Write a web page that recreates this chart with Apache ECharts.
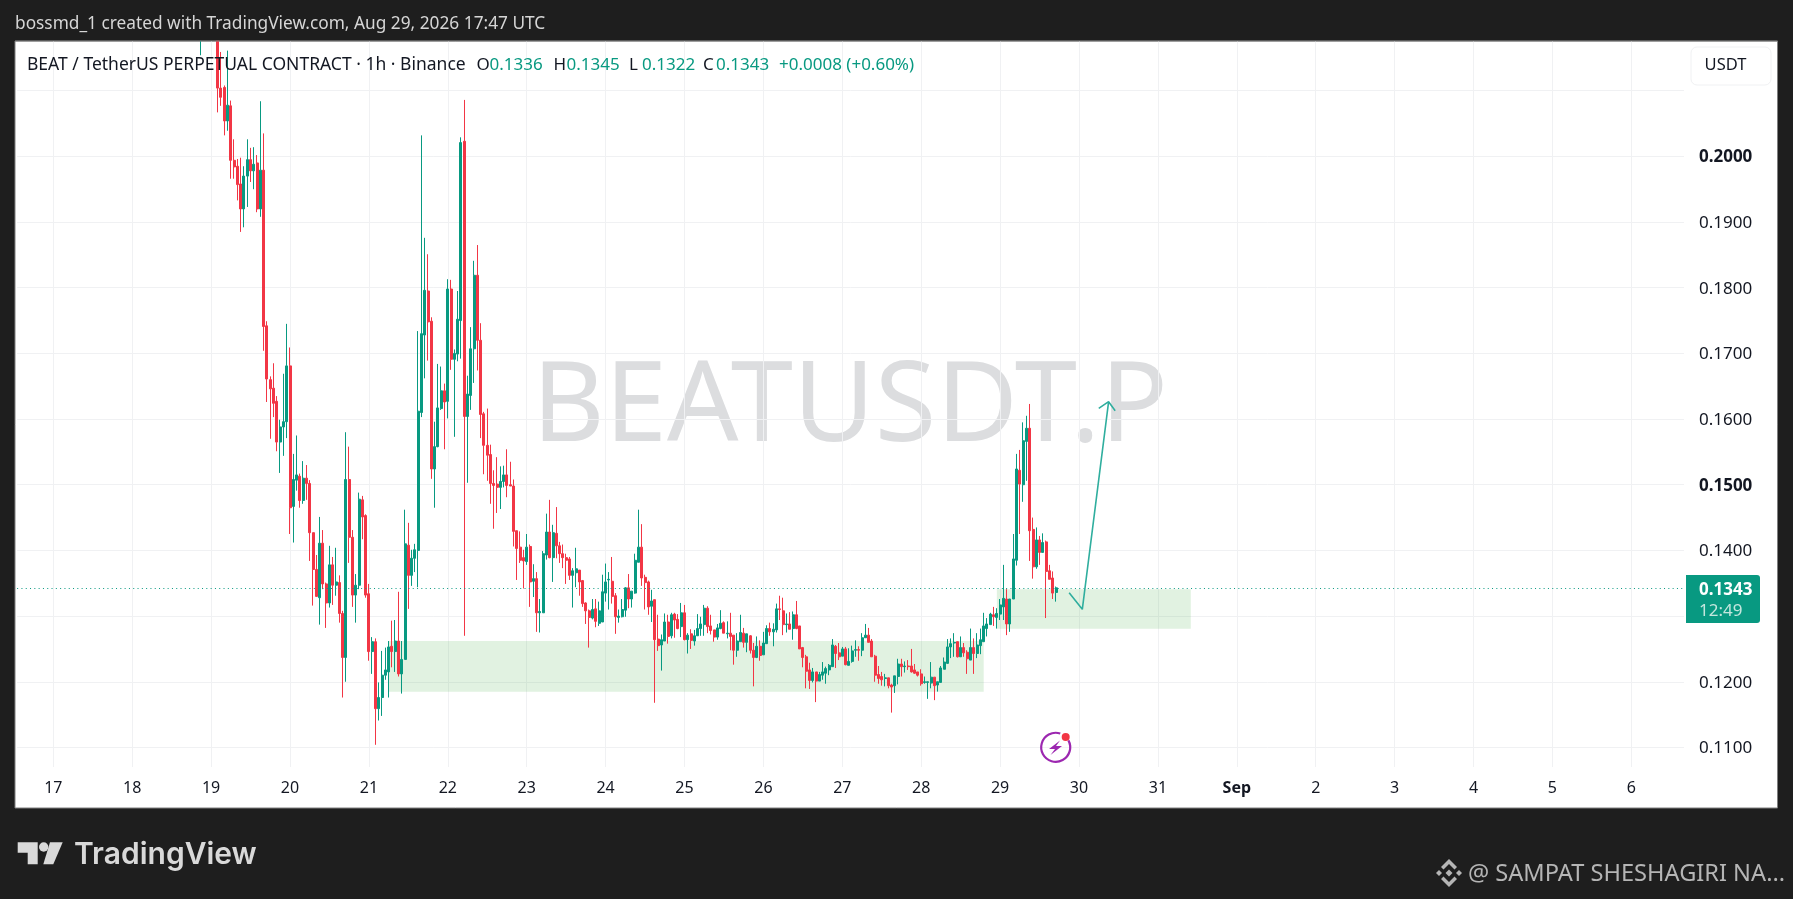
<!DOCTYPE html>
<html><head><meta charset="utf-8">
<style>html,body{margin:0;padding:0;background:#1e1e1e}#c{width:1793px;height:899px}</style>
<script src="https://cdn.jsdelivr.net/npm/echarts@6/dist/echarts.min.js"></script>
</head><body><div id="c"></div>
<script>
// Tick labels: one per day, first is Aug 17 00:00
const dayTicks = ["17","18","19","20","21","22","23","24","25","26","27","28","29","30","31","Sep","2","3","4","5","6"];
const boldDayTicks = ["Sep"];
const priceTicks = [0.11,0.12,0.13,0.14,0.15,0.16,0.17,0.18,0.19,0.2,0.21];
const hiddenPriceTicks = ["0.2100","0.1300"];
const boldPriceTicks = ["0.1500","0.2000"];
// Hourly candles, rows are [open, close, low, high]
const firstCandleHour = 45; // hours since Aug 17 00:00
const aug18 = [[.2195,.2210,.2154,.2260],[.2195,.2230,.2185,.2250],[.2230,.2260,.2200,.2290]];
const aug19 = [[.2260,.2240,.2200,.2300],[.2240,.2210,.2190,.2260],[.2210,.2104,.2067,.2240],[.2104,.2090,.2077,.2159],[.2105,.2054,.2032,.2108],[.2054,.2078,.2039,.2161],[.2077,.1994,.1966,.2085],[.1994,.1984,.1966,.2026],[.1985,.1957,.1933,.1996],[.1958,.1920,.1885,.1998],[.1920,.1970,.1892,.1985],[.1970,.1995,.1923,.2026],[.1995,.1978,.1961,.2013],[.1978,.1988,.1950,.2014],[.1990,.1920,.1915,.2002],[.1920,.1979,.1908,.2084],[.1979,.1741,.1704,.2035],[.1742,.1661,.1626,.1749],[.1660,.1646,.1570,.1665],[.1647,.1624,.1603,.1685],[.1627,.1565,.1551,.1635],[.1565,.1588,.1518,.1599],[.1588,.1596,.1544,.1669],[.1596,.1681,.1571,.1745]];
const aug20 = [[.1681,.1465,.1425,.1709],[.1467,.1508,.1412,.1547],[.1507,.1515,.1491,.1575],[.1513,.1476,.1465,.1517],[.1476,.1510,.1471,.1536],[.1510,.1502,.1477,.1530],[.1502,.1427,.1384,.1507],[.1427,.1371,.1316,.1427],[.1371,.1330,.1329,.1393],[.1328,.1411,.1287,.1451],[.1411,.1349,.1341,.1431],[.1349,.1320,.1282,.1351],[.1320,.1378,.1313,.1407],[.1378,.1347,.1317,.1390],[.1347,.1352,.1331,.1404],[.1351,.1304,.1290,.1362],[.1304,.1237,.1176,.1308],[.1237,.1508,.1200,.1580],[.1508,.1420,.1381,.1558],[.1420,.1332,.1314,.1431],[.1332,.1347,.1290,.1364],[.1347,.1478,.1341,.1488],[.1477,.1451,.1417,.1483],[.1453,.1332,.1328,.1455]];
const aug21 = [[.1334,.1246,.1232,.1349],[.1246,.1261,.1212,.1268],[.1261,.1159,.1104,.1266],[.1159,.1176,.1141,.1199],[.1176,.1210,.1148,.1247],[.1210,.1218,.1203,.1252],[.1215,.1253,.1176,.1262],[.1254,.1246,.1222,.1293],[.1246,.1262,.1215,.1294],[.1262,.1212,.1208,.1337],[.1212,.1234,.1182,.1262],[.1234,.1410,.1234,.1462],[.1408,.1362,.1311,.1442],[.1362,.1388,.1346,.1401],[.1388,.1401,.1367,.1410],[.1400,.1612,.1344,.1734],[.1610,.1730,.1603,.2032],[.1728,.1796,.1662,.1876],[.1795,.1748,.1689,.1851],[.1749,.1524,.1509,.1755],[.1524,.1558,.1465,.1596],[.1558,.1617,.1557,.1684],[.1616,.1643,.1614,.1680],[.1643,.1626,.1554,.1654]];
const aug22 = [[.1627,.1798,.1601,.1813],[.1798,.1691,.1675,.1812],[.1691,.1700,.1573,.1706],[.1699,.1752,.1688,.1795],[.1750,.2021,.1692,.2029],[.2023,.1604,.1270,.2086],[.1604,.1638,.1503,.1666],[.1636,.1707,.1614,.1740],[.1707,.1819,.1655,.1841],[.1819,.1720,.1674,.1865],[.1720,.1607,.1571,.1746],[.1608,.1560,.1516,.1611],[.1560,.1545,.1506,.1616],[.1546,.1502,.1471,.1561],[.1502,.1499,.1433,.1522],[.1501,.1496,.1457,.1542],[.1496,.1505,.1463,.1528],[.1505,.1515,.1496,.1529],[.1515,.1499,.1481,.1554],[.1500,.1498,.1498,.1535],[.1498,.1429,.1406,.1508],[.1430,.1403,.1355,.1430],[.1405,.1385,.1381,.1429],[.1389,.1384,.1342,.1401]];
const aug23 = [[.1383,.1405,.1378,.1425],[.1406,.1352,.1314,.1409],[.1353,.1357,.1329,.1379],[.1357,.1305,.1276,.1367],[.1305,.1307,.1275,.1326],[.1305,.1395,.1305,.1399],[.1393,.1428,.1386,.1456],[.1428,.1389,.1388,.1477],[.1389,.1427,.1352,.1439],[.1426,.1407,.1388,.1466],[.1407,.1395,.1381,.1413],[.1395,.1389,.1373,.1409],[.1389,.1385,.1349,.1395],[.1387,.1362,.1355,.1390],[.1362,.1369,.1313,.1373],[.1366,.1372,.1344,.1404],[.1370,.1352,.1331,.1370],[.1354,.1319,.1314,.1355],[.1320,.1308,.1288,.1321],[.1308,.1298,.1252,.1310],[.1297,.1310,.1295,.1326],[.1311,.1292,.1283,.1326],[.1289,.1308,.1285,.1322],[.1291,.1337,.1291,.1363]];
const aug24 = [[.1335,.1352,.1322,.1380],[.1355,.1356,.1310,.1367],[.1353,.1330,.1319,.1390],[.1331,.1299,.1273,.1335],[.1298,.1300,.1290,.1310],[.1299,.1310,.1298,.1326],[.1309,.1343,.1299,.1344],[.1343,.1326,.1312,.1364],[.1326,.1338,.1313,.1338],[.1335,.1385,.1334,.1395],[.1382,.1405,.1382,.1462],[.1405,.1358,.1346,.1440],[.1359,.1351,.1310,.1363],[.1352,.1314,.1302,.1354],[.1315,.1323,.1291,.1340],[.1325,.1264,.1168,.1325],[.1265,.1255,.1247,.1302],[.1256,.1264,.1217,.1272],[.1262,.1291,.1262,.1304],[.1291,.1269,.1258,.1302],[.1270,.1302,.1266,.1305],[.1303,.1294,.1267,.1305],[.1295,.1281,.1280,.1303],[.1284,.1305,.1268,.1320]];
const aug25 = [[.1305,.1264,.1263,.1317],[.1264,.1271,.1243,.1274],[.1273,.1263,.1250,.1280],[.1262,.1270,.1255,.1279],[.1270,.1281,.1270,.1303],[.1281,.1288,.1270,.1299],[.1287,.1312,.1270,.1317],[.1312,.1284,.1274,.1315],[.1285,.1278,.1272,.1302],[.1279,.1268,.1261,.1279],[.1268,.1282,.1264,.1288],[.1281,.1289,.1280,.1309],[.1290,.1274,.1274,.1292],[.1273,.1274,.1266,.1292],[.1274,.1269,.1248,.1305],[.1271,.1248,.1226,.1271],[.1248,.1262,.1238,.1274],[.1261,.1275,.1261,.1302],[.1274,.1260,.1252,.1282],[.1260,.1273,.1245,.1273],[.1270,.1248,.1243,.1271],[.1248,.1237,.1193,.1259],[.1237,.1254,.1236,.1269],[.1254,.1240,.1232,.1263]];
const aug26 = [[.1241,.1259,.1241,.1276],[.1258,.1281,.1258,.1286],[.1281,.1276,.1270,.1290],[.1276,.1280,.1254,.1289],[.1279,.1311,.1275,.1319],[.1311,.1310,.1294,.1331],[.1308,.1287,.1271,.1328],[.1287,.1288,.1275,.1304],[.1288,.1280,.1280,.1306],[.1281,.1302,.1264,.1307],[.1302,.1281,.1280,.1323],[.1285,.1250,.1250,.1285],[.1252,.1237,.1222,.1253],[.1238,.1216,.1190,.1241],[.1218,.1202,.1189,.1229],[.1202,.1215,.1199,.1221],[.1215,.1201,.1169,.1215],[.1201,.1211,.1201,.1215],[.1210,.1215,.1203,.1230],[.1213,.1220,.1197,.1223],[.1218,.1225,.1210,.1227],[.1223,.1256,.1223,.1265],[.1254,.1243,.1221,.1256],[.1244,.1238,.1233,.1259]];
const aug27 = [[.1239,.1250,.1239,.1253],[.1250,.1226,.1225,.1253],[.1225,.1231,.1225,.1251],[.1231,.1247,.1229,.1255],[.1248,.1249,.1238,.1263],[.1249,.1248,.1232,.1254],[.1248,.1267,.1239,.1274],[.1267,.1271,.1267,.1288],[.1271,.1260,.1260,.1282],[.1262,.1238,.1238,.1265],[.1239,.1210,.1200,.1241],[.1211,.1205,.1197,.1224],[.1208,.1203,.1194,.1215],[.1205,.1206,.1193,.1212],[.1206,.1194,.1190,.1206],[.1195,.1192,.1153,.1197],[.1194,.1209,.1183,.1209],[.1208,.1227,.1196,.1235],[.1227,.1223,.1208,.1235],[.1223,.1224,.1214,.1231],[.1224,.1223,.1218,.1233],[.1224,.1215,.1214,.1250],[.1218,.1213,.1212,.1227],[.1215,.1210,.1208,.1215]];
const aug28 = [[.1212,.1197,.1194,.1219],[.1199,.1200,.1197,.1208],[.1199,.1200,.1174,.1200],[.1198,.1207,.1190,.1230],[.1207,.1194,.1172,.1207],[.1195,.1200,.1185,.1200],[.1199,.1221,.1199,.1224],[.1219,.1230,.1219,.1237],[.1228,.1253,.1227,.1265],[.1253,.1258,.1236,.1266],[.1259,.1260,.1238,.1274],[.1261,.1238,.1237,.1261],[.1238,.1252,.1238,.1269],[.1252,.1244,.1238,.1259],[.1245,.1235,.1212,.1248],[.1233,.1252,.1233,.1281],[.1252,.1243,.1212,.1266],[.1243,.1256,.1236,.1274],[.1255,.1264,.1242,.1281],[.1261,.1285,.1261,.1305],[.1281,.1288,.1269,.1297],[.1287,.1303,.1287,.1305],[.1302,.1299,.1285,.1314],[.1298,.1304,.1281,.1312]];
const aug29 = [[.1303,.1317,.1294,.1326],[.1314,.1327,.1294,.1378],[.1326,.1288,.1271,.1341],[.1288,.1326,.1276,.1326],[.1326,.1387,.1326,.1425],[.1385,.1524,.1377,.1547],[.1522,.1501,.1425,.1553],[.1500,.1567,.1474,.1595],[.1566,.1586,.1506,.1605],[.1586,.1430,.1384,.1623],[.1432,.1375,.1357,.1450],[.1375,.1416,.1372,.1435],[.1416,.1397,.1378,.1422],[.1397,.1412,.1397,.1426],[.1413,.1368,.1297,.1415],[.1369,.1356,.1356,.1378],[.1358,.1335,.1326,.1368],[.1336,.1343,.1322,.1345]];
const lastPrice = 0.1343;
// Drawn zones: [from hour, to hour, bottom price, top price]
const zoneBase = [102, 283, 0.11849, 0.12621];
const zoneRetest = [287, 346, 0.12808, 0.13408];
// Drawn projection: hour, price
const arrowPath = [[309,0.13356],[313,0.13103],[321,0.16265],[318,0.16164],[321,0.16265],[323,0.16128]];
// Header texts
const headerText = "bossmd_1 created with TradingView.com, Aug 29, 2026 17:47 UTC";
const symbolText = "BEAT / TetherUS PERPETUAL CONTRACT · 1h · Binance";
const ohlcLabels = ["O","H","L","C"];
const ohlcValues = ["0.1336","0.1345","0.1322","0.1343"];
const changeText = "+0.0008 (+0.60%)";

const UP = "#089981", DOWN = "#F23645", INK = "#131722", FONT = '"Noto Sans", sans-serif';
const firstAxisHour = -11, lastAxisHour = 496;
const categories = [];
for (let h = firstAxisHour; h <= lastAxisHour; h++) {
  categories.push(h % 24 === 0 ? dayTicks[h / 24] : "h" + h);
}
const candles = [].concat(aug18, aug19, aug20, aug21, aug22, aug23, aug24, aug25, aug26, aug27, aug28, aug29);
const candleData = categories.map((_, i) => {
  const idx = i + firstAxisHour - firstCandleHour;
  return idx >= 0 && idx < candles.length ? candles[idx] : "-";
});
const toIdx = h => h - firstAxisHour;
const zoneArea = z => [{ xAxis: toIdx(z[0]), yAxis: z[3] }, { xAxis: toIdx(z[1]), yAxis: z[2] }];

const txt = (x, y, s, size, fill, extra) => Object.assign({
  type: "text", x, y, z: 50, silent: true,
  style: Object.assign({ text: s, fill, font: `${size}px ${FONT}`, textVerticalAlign: "middle" }, extra || {})
}, {});
const poly = (pts, fill) => ({ type: "polygon", z: 50, silent: true, shape: { points: pts }, style: { fill } });

const legendX = [476.5, 553.5, 629, 703];
const legendItems = [];
ohlcLabels.forEach((k, i) => {
  legendItems.push(txt(legendX[i], 65, k, 17, INK));
  legendItems.push(txt(legendX[i] + 13, 65, ohlcValues[i], 17, UP));
});

const option = {
  animation: false,
  backgroundColor: "#1e1e1e",
  grid: { left: 17.14, width: 1666.8, top: 41, height: 726 },
  xAxis: {
    type: "category", data: categories, boundaryGap: false,
    axisLine: { show: false }, axisTick: { show: false },
    splitLine: { show: true, interval: (i, v) => !v.startsWith("h"), lineStyle: { color: "#f0f1f3", width: 1 } },
    axisLabel: {
      interval: (i, v) => !v.startsWith("h"), margin: 13, fontFamily: FONT, fontSize: 16, color: INK, hideOverlap: false,
      formatter: v => boldDayTicks.includes(v) ? `{b|${v}}` : v,
      rich: { b: { fontFamily: FONT, fontSize: 16, fontWeight: "bold", color: INK } }
    }
  },
  yAxis: {
    type: "value", position: "right", min: 0.10702, max: 0.21757,
    axisLine: { show: false }, axisTick: { show: false, customValues: priceTicks },
    splitLine: { show: true, lineStyle: { color: "#f0f1f3", width: 1 } },
    axisLabel: {
      customValues: priceTicks, margin: 15, fontFamily: FONT, fontSize: 17, color: INK, padding: [2, 0, 0, 0],
      formatter: v => {
        const s = v.toFixed(4);
        if (hiddenPriceTicks.includes(s)) return "";
        return boldPriceTicks.includes(s) ? `{b|${s}}` : s;
      },
      rich: { b: { fontFamily: FONT, fontSize: 17, fontWeight: "bold", color: INK } }
    }
  },
  series: [
    {
      type: "candlestick", data: candleData, barWidth: 2.5, large: false, clip: true, silent: true,
      itemStyle: { color: UP, color0: DOWN, borderColor: UP, borderColor0: DOWN, borderWidth: 1 },
      markArea: {
        silent: true, itemStyle: { color: "rgba(76,175,80,0.17)", borderWidth: 0 },
        data: [zoneArea(zoneBase), zoneArea(zoneRetest)]
      },
      markLine: {
        silent: true, symbol: "none", label: { show: false }, precision: 4,
        lineStyle: { color: UP, type: [1, 3.3], width: 1 },
        data: [{ yAxis: lastPrice }]
      }
    },
    {
      type: "line", data: arrowPath.map(p => [toIdx(p[0]), p[1]]), symbol: "none", silent: true, z: 5,
      lineStyle: { color: "#2fae9e", width: 1.6 }
    }
  ],
  graphic: { elements: [
    { type: "rect", z: -10, silent: true, shape: { x: 15, y: 41, width: 1762.5, height: 767 }, style: { fill: "#ffffff", stroke: "#7f7f7f", lineWidth: 1 } },
    { type: "text", z: -5, silent: true, x: 850, y: 409.5, style: { text: "BEATUSDT.P", fill: "#dcdddf", font: `112px ${FONT}`, textAlign: "center", textVerticalAlign: "middle" } },
    // header band covers the wicks that leave the top of the pane
    { type: "rect", z: 10, silent: true, shape: { x: 0, y: 0, width: 1793, height: 40.5 }, style: { fill: "#1e1e1e" } },
    { type: "rect", z: 11, silent: true, shape: { x: 15, y: 40.5, width: 1762.5, height: 1 }, style: { fill: "#7f7f7f" } },
    txt(15, 24, headerText, 17.3, "#d6d6d6"),
    txt(27, 65, symbolText, 17.5, INK),
    ...legendItems,
    txt(779, 65, changeText, 17, UP),
    { type: "rect", z: 50, silent: true, shape: { x: 1691, y: 47, width: 80, height: 38, r: 6 }, style: { fill: "#fff", stroke: "#f0f1f3", lineWidth: 1 } },
    txt(1725.5, 65, "USDT", 16.5, INK, { textAlign: "center" }),
    { type: "rect", z: 50, silent: true, shape: { x: 1686, y: 575, width: 74, height: 48, r: [0, 3, 3, 0] }, style: { fill: UP } },
    { type: "text", z: 51, silent: true, x: 1699, y: 590, style: { text: "0.1343", fill: "#fff", font: `bold 17px ${FONT}`, textVerticalAlign: "middle" } },
    txt(1699, 611, "12:49", 17, "#c3e6dd"),
    // lightning badge
    { type: "arc", z: 50, silent: true, shape: { cx: 1055.7, cy: 747.3, r: 14.5, startAngle: -0.5, endAngle: -1.25, clockwise: true }, style: { fill: "none", stroke: "#9c27b0", lineWidth: 2.2 } },
    poly([[1060,740.5],[1049,749],[1055,749],[1050.5,755],[1062,746],[1056,746]], "#9c27b0"),
    { type: "circle", z: 51, silent: true, shape: { cx: 1065.7, cy: 737, r: 4 }, style: { fill: DOWN } },
    // TradingView logo
    poly([[17.7,842.3],[37.7,842.3],[37.7,864.3],[27.7,864.3],[27.7,852.7],[17.7,852.7]], "#d9d9d9"),
    { type: "circle", z: 50, silent: true, shape: { cx: 43.7, cy: 847, r: 4.7 }, style: { fill: "#d9d9d9" } },
    poly([[50,842.3],[62.7,842.3],[53.3,864.3],[43.3,864.3]], "#d9d9d9"),
    txt(74, 855, "TradingView", 30, "#d9d9d9", { font: `600 30px Inter, ${FONT}` }),
    // author badge
    poly([[1449,859],[1457,867],[1454.5,869.5],[1449,864],[1443.5,869.5],[1441,867]], "#b5b5b5"),
    poly([[1449,887],[1457,879],[1454.5,876.5],[1449,882],[1443.5,876.5],[1441,879]], "#b5b5b5"),
    poly([[1436,873],[1439,870],[1442,873],[1439,876]], "#b5b5b5"),
    poly([[1456,873],[1459,870],[1462,873],[1459,876]], "#b5b5b5"),
    poly([[1449,869.5],[1452.5,873],[1449,876.5],[1445.5,873]], "#b5b5b5"),
    txt(1468, 874, "@ SAMPAT SHESHAGIRI NA...", 23.6, "#b5b5b5")
  ] }
};
const chart = echarts.init(document.getElementById("c"), null, { renderer: "canvas" });
chart.setOption(option);
</script></body></html>
